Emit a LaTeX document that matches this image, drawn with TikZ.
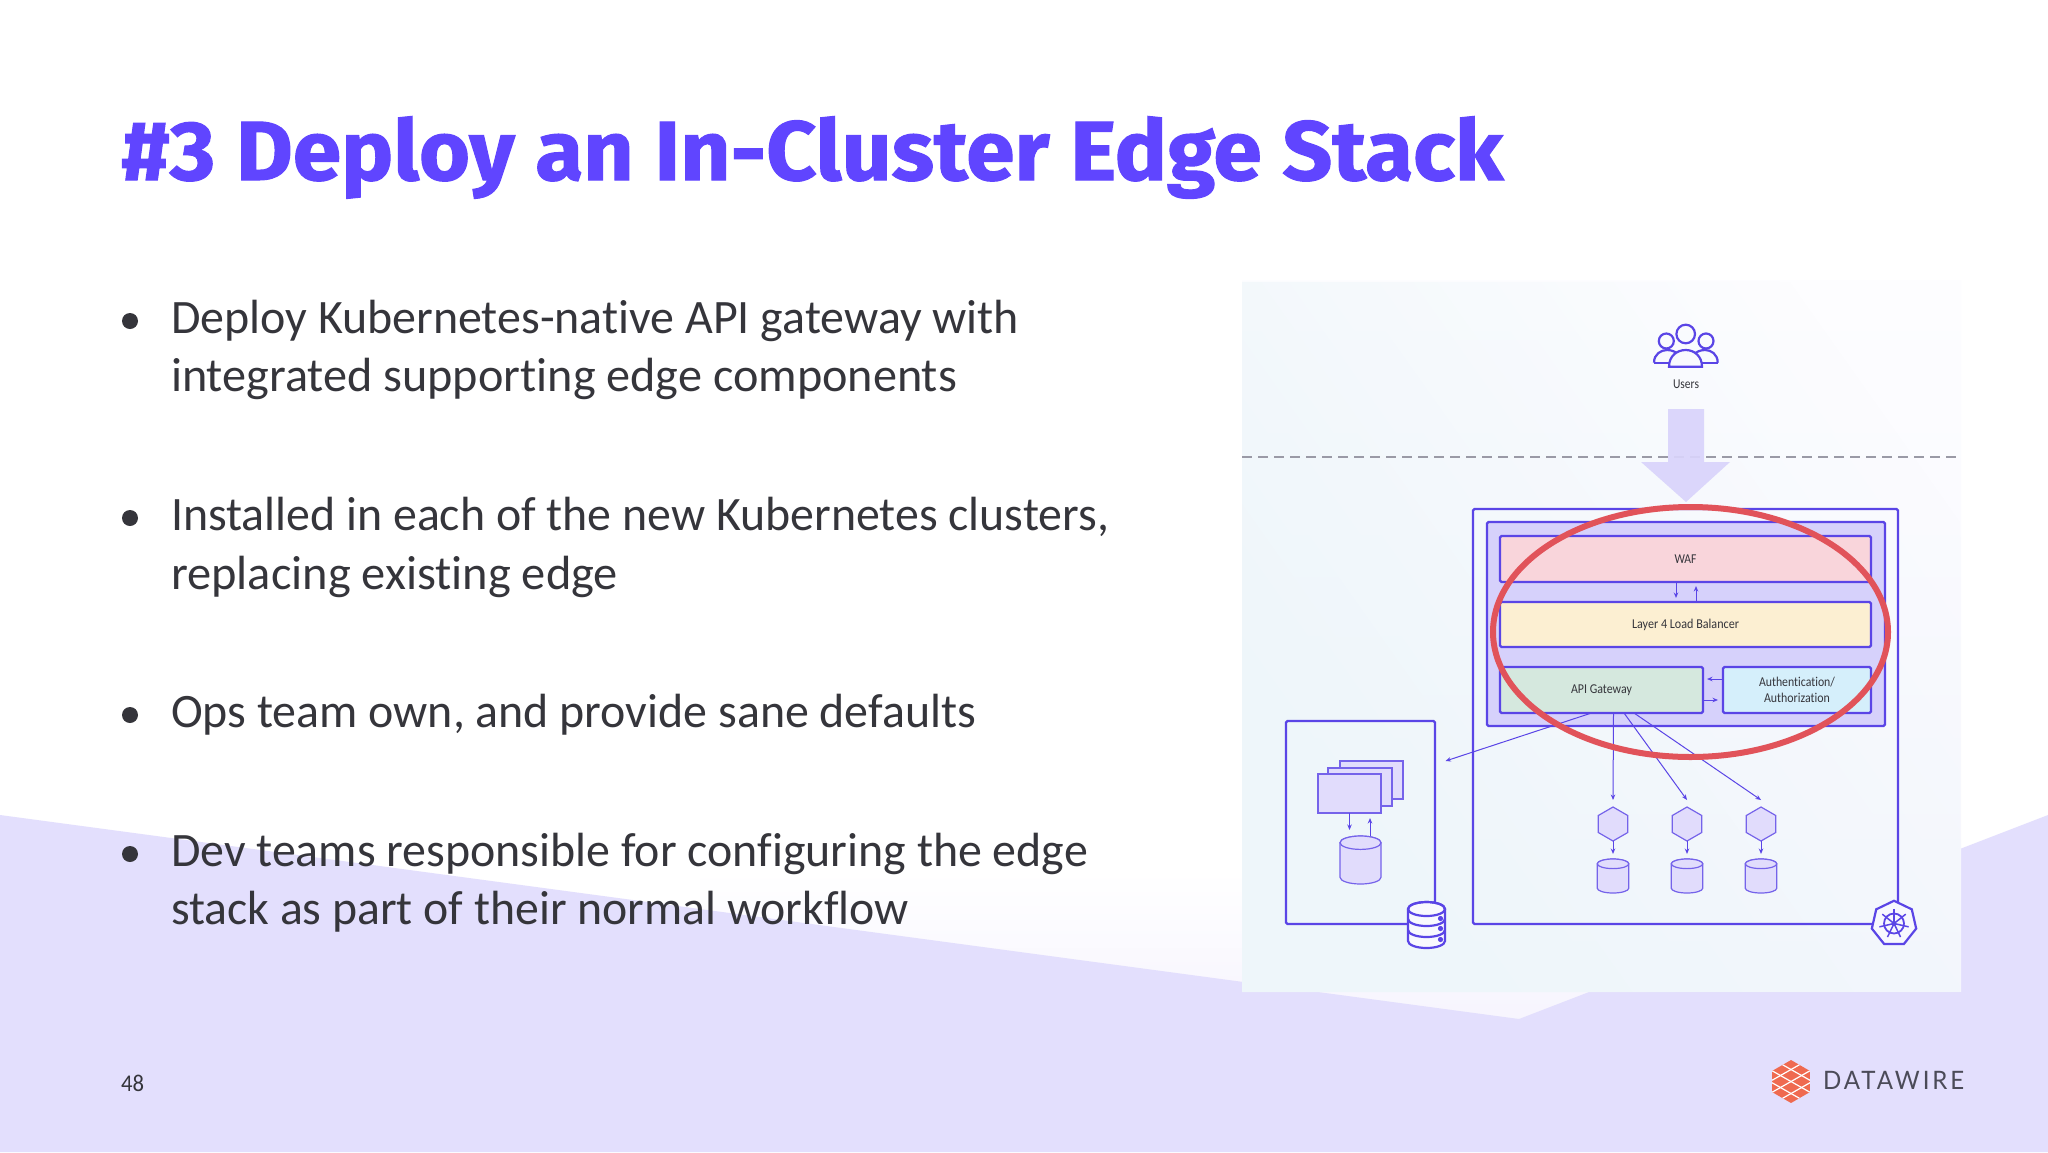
\documentclass[tikz,border=0pt]{standalone}
\usepackage{graphicx}
\usepackage{fontspec}
\setmainfont[Ligatures=NoCommon]{Carlito}
\newfontfamily\titlefont[FakeBold=1.2]{Fira Sans Bold}
\newfontfamily\logofont[LetterSpace=12]{Lato}
\usetikzlibrary{shapes.geometric,arrows.meta,calc,fadings}
\definecolor{ink}{HTML}{35353B}
\definecolor{titlec}{HTML}{6045FF}
\definecolor{wash}{HTML}{E3DFFD}
\definecolor{edgeline}{HTML}{5A45E6}
\definecolor{softstroke}{HTML}{7563EA}
\definecolor{tray}{HTML}{D6D1FB}
\definecolor{softfill}{HTML}{E1DCFC}
\definecolor{wafc}{HTML}{F9D5DB}
\definecolor{lbc}{HTML}{FCEFD2}
\definecolor{apic}{HTML}{D5E8DE}
\definecolor{authc}{HTML}{D5EFFB}
\definecolor{ringc}{HTML}{E1535A}
\definecolor{flowc}{HTML}{D9D4FB}
\definecolor{logoc}{HTML}{EF6A50}
\definecolor{cornerc}{HTML}{F6F4FE}
\definecolor{paneltop}{HTML}{FDFDFF}
\definecolor{panelbot}{HTML}{F6F7FE}
\definecolor{panelside}{HTML}{EEF6FA}
\definecolor{iconfill}{HTML}{F9F9FE}
\definecolor{k8sfill}{HTML}{F7F8FE}
\definecolor{dashc}{HTML}{9A9AA6}
\definecolor{brandc}{HTML}{4B4B58}
\newcommand\fitw[2]{\resizebox{#1pt}{\height}{#2}}
\newcommand\lowered[1]{\raisebox{-1.3pt}{#1}}
\newcommand\cyl[6]{% name, cx, top, width, height, ry
  \path[cylpart] (#2-#4/2,#3+#6) -- (#2-#4/2,#3+#5-#6)
     arc[start angle=180,end angle=360,x radius=#4/2*1pt,y radius=#6*1pt]
     -- (#2+#4/2,#3+#6) arc[start angle=0,end angle=180,x radius=#4/2*1pt,y radius=#6*1pt] -- cycle;
  \path[cylpart] (#2,#3+#6) ellipse [x radius=#4/2*1pt,y radius=#6*1pt];
  \node[minimum width=#4pt,minimum height=#5pt,inner sep=0pt,outer sep=0pt] (#1) at (#2,#3+#5/2) {};
}
\tikzset{
  x=1pt,y=-1pt,
  body/.style={anchor=base west,inner sep=0pt,outer sep=0pt,text=ink,font=\fontsize{48}{54}\selectfont},
  dot/.style={circle,fill=ink,minimum size=16pt,inner sep=0pt,outer sep=0pt},
  box/.style={draw=edgeline,line width=2.4pt,rounded corners=1.5pt,inner sep=0pt,outer sep=0pt,text=ink,font=\fontsize{13.5}{16}\selectfont,align=center},
  thinbox/.style={draw=softstroke,line width=1.2pt,fill=softfill,inner sep=0pt,outer sep=0pt},
  cylpart/.style={draw=softstroke,line width=1.2pt,fill=softfill},
  conn/.style={draw=edgeline,line width=1pt,-{Stealth[length=5.5pt,width=4.5pt]}},
  icon/.style={draw=edgeline,line width=2.2pt},
  hexa/.style={regular polygon,regular polygon sides=6,shape border rotate=30,minimum size=34pt,inner sep=0pt,outer sep=0pt,draw=softstroke,line width=1.2pt,fill=softfill},
}
\begin{document}
\begin{tikzpicture}
\useasboundingbox (0,0) rectangle (2048,1152);
% slide background
\fill[white] (0,0) rectangle (2048,1152);
\shade[top color=white,bottom color=cornerc] (700,870) rectangle (1961,1025);
\fill[wash] (0,815) -- (1519,1019) -- (2048,815) -- (2048,1152) -- (0,1152) -- cycle;
% diagram panel
\shade[top color=paneltop,bottom color=panelbot] (1242,280) rectangle (1961,991);
\fill[panelside,path fading=east,fading angle=35] (1242,280) rectangle (1961,991);
% title
\node[anchor=base west,inner sep=0pt,text=titlec,font=\titlefont\fontsize{84}{90}\selectfont] (title) at (121,180) {\fitw{1382}{\#3 Deploy an In-Cluster Edge Stack}};
% bullets
\node[dot] (b1) at (130,321) {};
\node[body] (t1a) at (171,333) {\fitw{848}{Deploy Kubernetes-native API gateway with}};
\node[body] (t1b) at (171,391) {\fitw{786}{integrated supporting edge components}};
\node[dot] (b2) at (130,518) {};
\node[body] (t2a) at (171,530) {\fitw{938}{Installed in each of the new Kubernetes clusters,}};
\node[body] (t2b) at (171,589) {\fitw{447}{replacing existing edge}};
\node[dot] (b3) at (130,715) {};
\node[body] (t3a) at (171,727) {\fitw{805}{Ops team own, and provide sane defaults}};
\node[dot] (b4) at (130,854) {};
\node[body] (t4a) at (171,866) {\fitw{917}{Dev teams responsible for configuring the edge}};
\node[body] (t4b) at (171,924) {\fitw{738}{stack as part of their normal workflow}};
\node[anchor=base west,inner sep=0pt,text=ink,font=\fontsize{24}{28}\selectfont] (page) at (121,1091) {\fitw{23}{48}};
% boundary and traffic arrow
\draw[draw=dashc,line width=1.3pt,dash pattern=on 10pt off 6pt] (1242,457) -- (1961,457);
\fill[flowc,fill opacity=.92] (1668,409) -- (1704,409) -- (1704,462) -- (1730,462) -- (1686,502) -- (1641,462) -- (1668,462) -- cycle;
% users
\node[inner sep=0pt,text=ink,font=\fontsize{13.5}{16}\selectfont] (users) at (1686,384.5) {\fitw{26}{Users}};
\draw[icon,fill=iconfill] (1654,362.7) .. controls (1654,354) and (1661,350) .. (1667,350) .. controls (1672,350) and (1676,352) .. (1679,355);
\draw[icon] (1654,362.7) -- (1671,362.7);
\draw[icon] (1717.7,362.7) .. controls (1717.7,354) and (1711,350) .. (1705,350) .. controls (1700,350) and (1696,352) .. (1693,355);
\draw[icon] (1717.7,362.7) -- (1701,362.7);
\draw[icon,fill=iconfill] (1669,366.7) .. controls (1669,356) and (1677,350) .. (1685.7,350) .. controls (1694,350) and (1702,356) .. (1702,366.7) -- cycle;
\draw[icon] (1666.3,341) circle [radius=7.5pt];
\draw[icon] (1706,341) circle [radius=7.5pt];
\draw[icon] (1685.7,334) circle [radius=9.3pt];
% cluster boxes
\node[box,minimum width=149pt,minimum height=203pt] (store) at (1360.5,822.5) {};
\node[box,minimum width=425pt,minimum height=415pt] (cluster) at (1685.5,716.5) {};
\node[box,fill=tray,minimum width=398pt,minimum height=204pt] (edge) at (1686,624) {};
\node[box,fill=wafc,minimum width=371pt,minimum height=46pt] (waf) at (1685.5,559) {\fitw{22}{WAF}};
\node[box,fill=lbc,minimum width=371pt,minimum height=45pt] (lb) at (1685.5,624.5) {\lowered{\fitw{107}{Layer 4 Load Balancer}}};
\node[box,fill=apic,minimum width=203pt,minimum height=46pt] (api) at (1601.5,690) {\lowered{\fitw{61}{API Gateway}}};
\node[box,fill=authc,minimum width=148pt,minimum height=46pt] (auth) at (1797,690) {\lowered{\fitw{76}{Authentication/}}\\[0pt]\lowered{\fitw{66}{Authorization}}};
% edge stack arrows
\draw[conn] ($(waf.south)+(-9.5,0)$) -- ($(lb.north)+(-9.5,-4)$);
\draw[conn] ($(lb.north)+(10.5,0)$) -- ($(waf.south)+(10.5,4)$);
\draw[conn] ($(auth.west)+(0,-11)$) -- ($(api.east)+(4,-11)$);
\draw[conn] ($(api.east)+(0,10)$) -- ($(auth.west)+(-5,10)$);
% left store
\node[thinbox,minimum width=63pt,minimum height=38pt] (s3) at (1371.5,780) {};
\node[thinbox,minimum width=64pt,minimum height=38pt] (s2) at (1360,787) {};
\node[thinbox,minimum width=63pt,minimum height=39pt] (s1) at (1349.5,793.5) {};
\cyl{dbleft}{1360.5}{836}{41}{48}{6.7}
\draw[conn] (s1.south) -- ($(s1.south)+(0,17)$);
\draw[conn] ($(dbleft.north)+(9.5,0)$) -- ($(dbleft.north)+(9.5,-18)$);
% services
\node[hexa] (h1) at (1613,824) {};
\node[hexa] (h2) at (1687,824) {};
\node[hexa] (h3) at (1761,824) {};
\cyl{c1}{1613}{859}{31.5}{34}{4.8}
\cyl{c2}{1687}{859}{31.5}{34}{4.8}
\cyl{c3}{1761}{859}{31.5}{34}{4.8}
\draw[conn] (h1.south) -- ($(c1.north)+(0,-5)$);
\draw[conn] (h2.south) -- ($(c2.north)+(0,-5)$);
\draw[conn] (h3.south) -- ($(c3.north)+(0,-5)$);
\coordinate (storein) at ($(store.east)+(10.5,-61.5)$);
\draw[conn] ($(api.south)+(-10,0)$) -- (storein);
\draw[conn] ($(api.south)+(12,0)$) -- ($(h1.north)+(0,-7)$);
\draw[conn] ($(api.south)+(22.5,0)$) -- ($(h2.north)+(0,-7)$);
\draw[conn] ($(api.south)+(32.5,0)$) -- ($(h3.north)+(0,-7)$);
% data store badge
\path[icon,fill=iconfill] (1408,909) -- (1408,941) arc[start angle=180,end angle=360,x radius=18.5pt,y radius=7pt] -- (1445,909) arc[start angle=0,end angle=180,x radius=18.5pt,y radius=7pt] -- cycle;
\draw[icon] (1426.5,909) ellipse [x radius=18.5pt,y radius=7pt];
\draw[icon] (1408,919) arc[start angle=180,end angle=360,x radius=18.5pt,y radius=7pt];
\draw[icon] (1408,930) arc[start angle=180,end angle=360,x radius=18.5pt,y radius=7pt];
\fill[edgeline] (1440.5,918.5) circle [radius=2.6pt] (1440.5,928.5) circle [radius=2.6pt] (1440.5,939.5) circle [radius=2.6pt];
% kubernetes badge
\node[regular polygon,regular polygon sides=7,minimum size=45.5pt,inner sep=0pt,outer sep=0pt,icon,fill=k8sfill] (k8s) at (1894,923.5) {};
\draw[edgeline,line width=1.8pt] (k8s.center) circle [radius=10pt];
\foreach \a in {90,141.43,192.86,244.29,295.71,347.14,398.57}
  \draw[edgeline,line width=1.5pt] (k8s.center) -- ++(\a:15pt);
\fill[edgeline] (k8s.center) circle [radius=2.4pt];
% highlight ring
\node[ellipse,draw=ringc,line width=6pt,minimum width=395pt,minimum height=250pt,inner sep=0pt,outer sep=0pt] (ring) at (1690.5,632) {};
% logo
\begin{scope}
\clip (1791,1060) -- (1810,1071) -- (1810,1092) -- (1791,1103) -- (1772,1092) -- (1772,1071) -- cycle;
\fill[logoc] (1772,1060) rectangle (1810,1103);
\foreach \c in {-24,-12,0,12,24} {
  \draw[white,line width=1.2pt] (1772,1081.5+\c+10.8) -- (1810,1081.5+\c-10.8);
  \draw[white,line width=1.2pt] (1772,1081.5+\c-10.8) -- (1810,1081.5+\c+10.8);
}
\end{scope}
\node[anchor=base west,inner sep=0pt,text=brandc,font=\logofont\fontsize{25.4}{28}\selectfont] (brand) at (1823,1089) {\fitw{141}{DATAWIRE}};
\end{tikzpicture}
\end{document}
